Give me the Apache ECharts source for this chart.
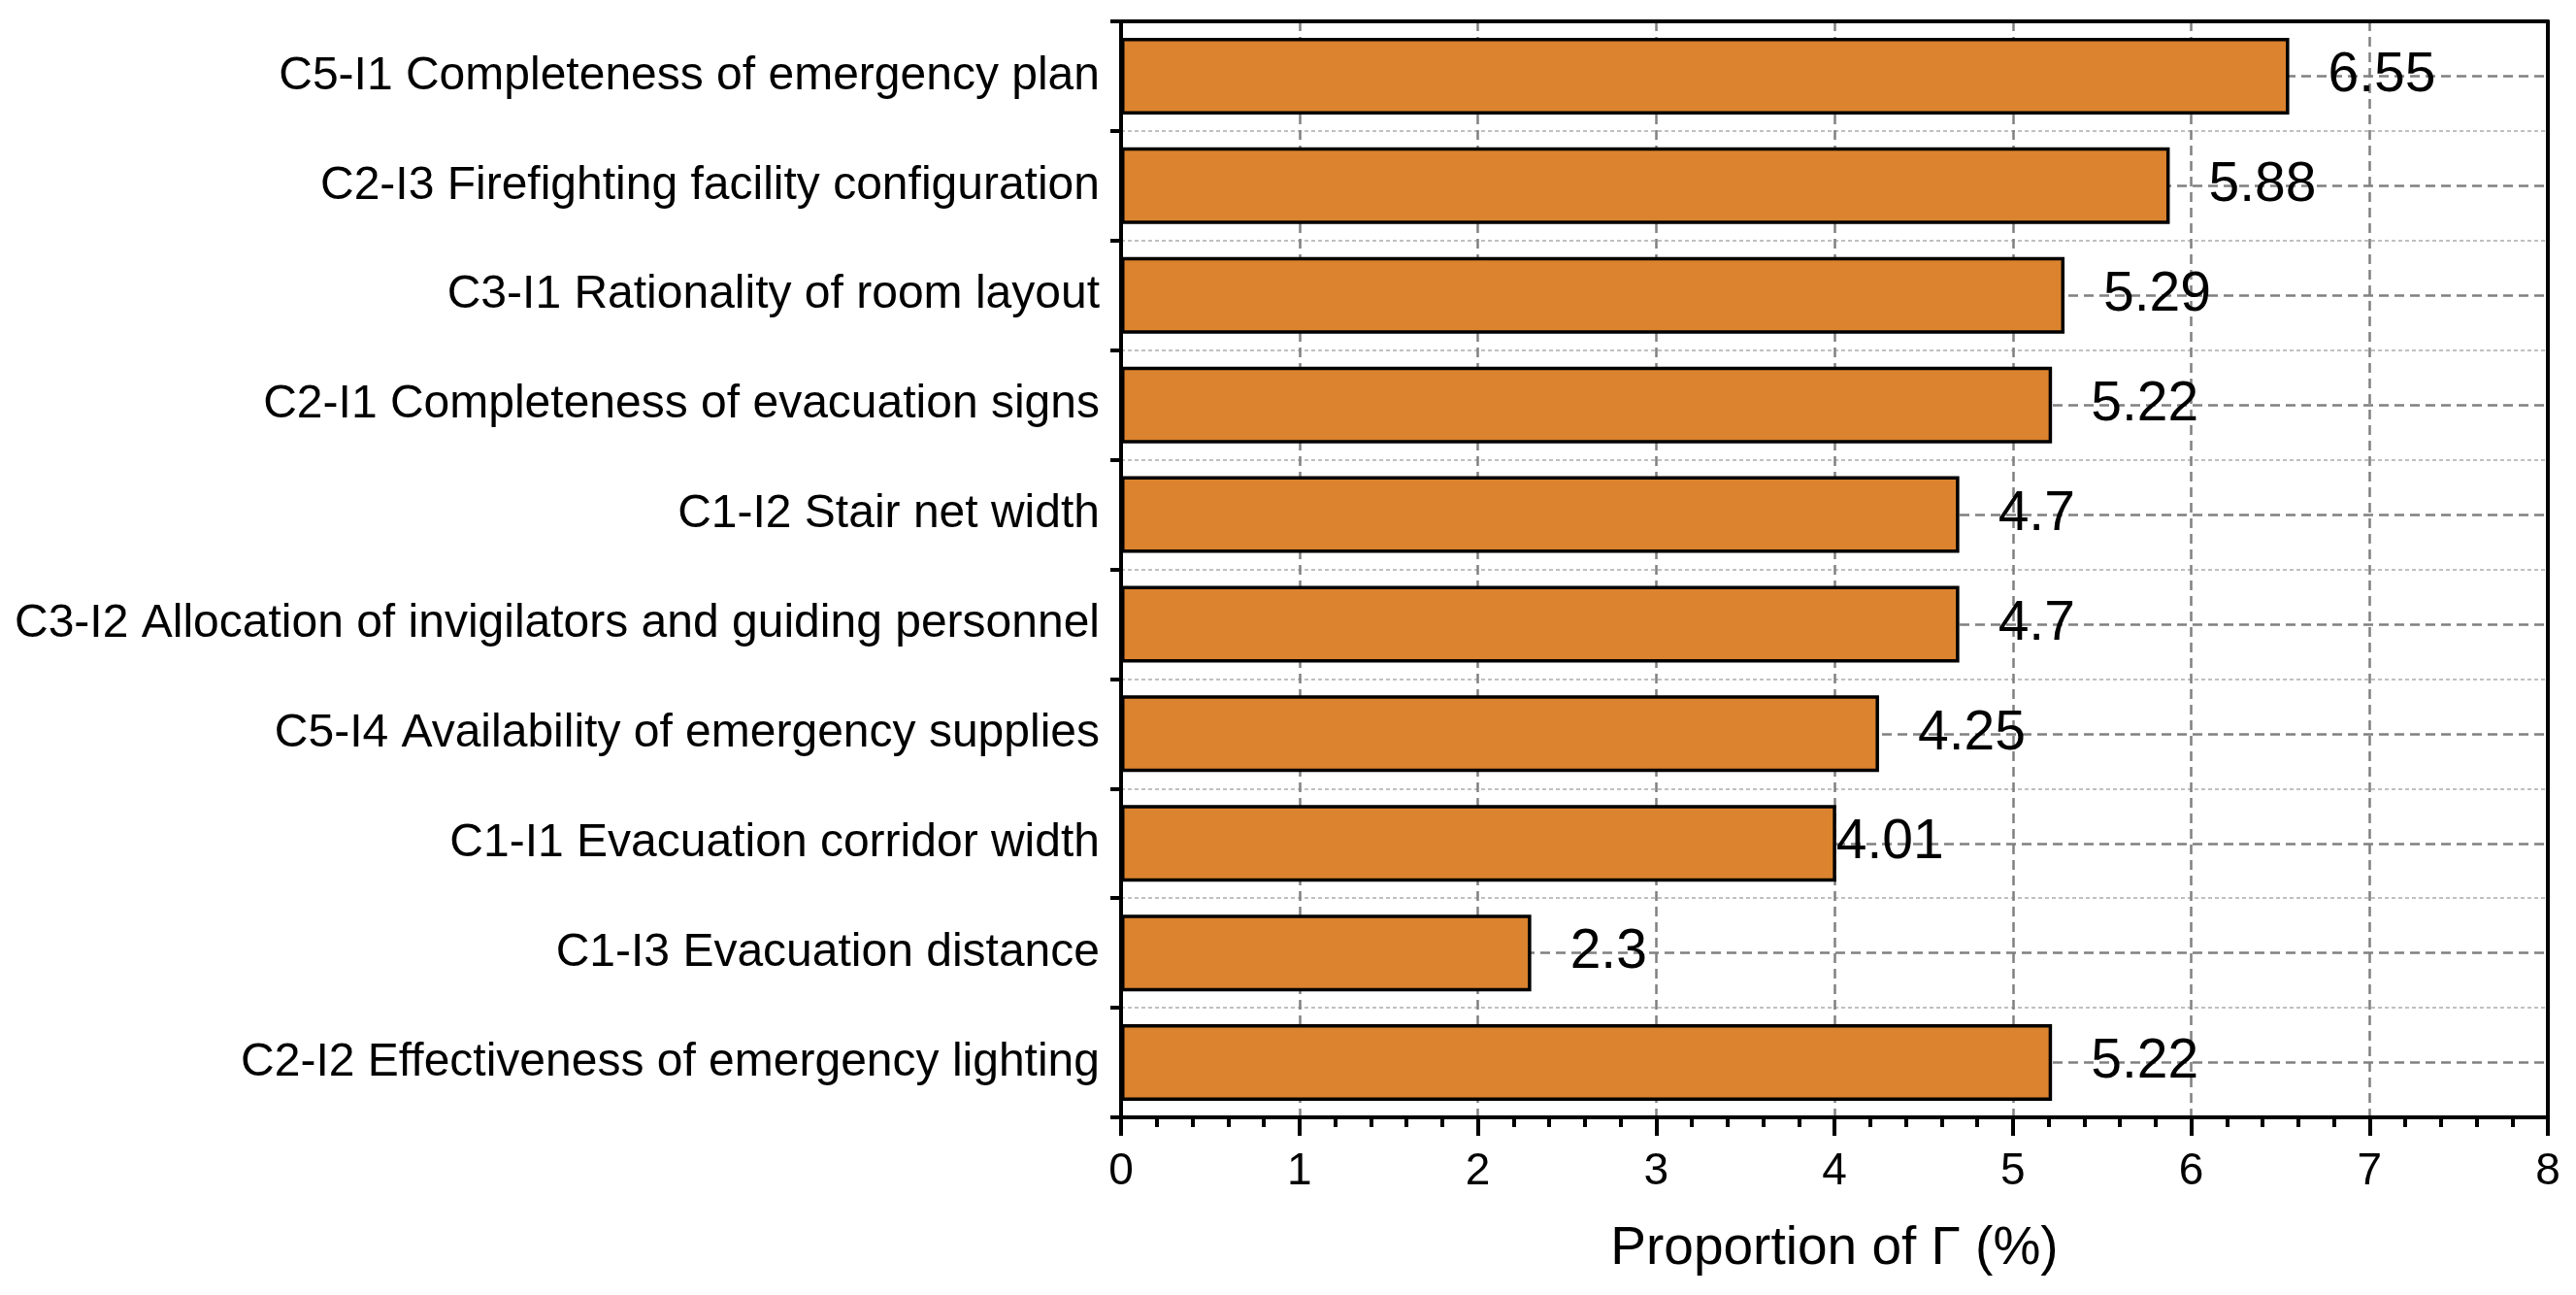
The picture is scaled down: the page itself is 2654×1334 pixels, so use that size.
<!DOCTYPE html>
<html>
<head>
<meta charset="utf-8">
<script src="https://cdn.jsdelivr.net/npm/echarts@6/dist/echarts.min.js"></script>
<style>
  html, body { margin: 0; padding: 0; background: #fff; }
  #main { width: 2654px; height: 1334px; }
</style>
</head>
<body>
<div id="main"></div>
<script>
// categories top to bottom
const categories = [
  "C5-I1 Completeness of emergency plan",
  "C2-I3 Firefighting facility configuration",
  "C3-I1 Rationality of room layout",
  "C2-I1 Completeness of evacuation signs",
  "C1-I2 Stair net width",
  "C3-I2 Allocation of invigilators and guiding personnel",
  "C5-I4 Availability of emergency supplies",
  "C1-I1 Evacuation corridor width",
  "C1-I3 Evacuation distance",
  "C2-I2 Effectiveness of emergency lighting"
];
const proportion = [6.55, 5.88, 5.29, 5.22, 4.7, 4.7, 4.25, 4.01, 2.3, 5.22];
const xTicks = [0, 1, 2, 3, 4, 5, 6, 7, 8];

const FONT = "'Liberation Sans', Arial, sans-serif";
// this one label sits right on the bar end in the original
const tightLabel = "C1-I1 Evacuation corridor width";

const myChart = echarts.init(document.getElementById("main"));

const barData = proportion.map(function (v, i) {
  const item = { value: v };
  if (categories[i] === tightLabel) {
    item.label = { distance: 0 };
  }
  return item;
});

const frameLine = { show: true, onZero: false, lineStyle: { color: "#000", width: 4 } };

const option = {
  animation: false,
  backgroundColor: "#fff",
  textStyle: { fontFamily: FONT },
  grid: {
    left: 1155,
    right: 29,
    top: 22,
    bottom: 183
  },
  xAxis: [
    {
      type: "value",
      position: "bottom",
      min: xTicks[0],
      max: xTicks[xTicks.length - 1],
      interval: 1,
      name: "Proportion of \u0393 (%)",
      nameLocation: "middle",
      nameGap: 108,
      nameTextStyle: { color: "#000", fontSize: 55, fontFamily: FONT },
      axisLine: frameLine,
      axisTick: { show: true, length: 19, lineStyle: { color: "#000", width: 4 } },
      minorTick: { show: true, splitNumber: 5, length: 10, lineStyle: { color: "#000", width: 4 } },
      axisLabel: { color: "#000", fontSize: 46, margin: 33, fontFamily: FONT },
      splitLine: {
        show: true,
        showMinLine: false,
        showMaxLine: false,
        lineStyle: { color: "#808080", width: 2.5, type: [10, 6] }
      }
    },
    {
      // top frame line
      type: "value",
      position: "top",
      min: xTicks[0],
      max: xTicks[xTicks.length - 1],
      axisLine: frameLine,
      axisTick: { show: false },
      axisLabel: { show: false },
      splitLine: { show: false }
    }
  ],
  yAxis: [
    {
      type: "category",
      data: categories,
      inverse: true,
      axisLine: frameLine,
      axisTick: { show: true, length: 11, lineStyle: { color: "#000", width: 4 } },
      axisLabel: { color: "#000", fontSize: 48, margin: 22, fontFamily: FONT },
      splitLine: { show: false }
    },
    {
      // helper axis: right frame line + horizontal grid (boundaries and category centres)
      type: "value",
      min: 0,
      max: categories.length,
      interval: 1,
      position: "right",
      axisLine: frameLine,
      axisTick: { show: false },
      axisLabel: { show: false },
      minorTick: { show: false, splitNumber: 2 },
      splitLine: {
        show: true,
        showMinLine: false,
        showMaxLine: false,
        lineStyle: { color: "#c0c0c0", width: 2, type: [4, 3] }
      },
      minorSplitLine: { show: true, lineStyle: { color: "#808080", width: 2.5, type: [10, 6] } }
    }
  ],
  series: [
    {
      type: "bar",
      yAxisIndex: 0,
      data: barData,
      barCategoryGap: "30%",
      itemStyle: { color: "#DB832E", borderColor: "#000", borderWidth: 3.5 },
      label: {
        show: true,
        position: "right",
        distance: 40,
        color: "#000",
        fontSize: 57,
        fontFamily: FONT
      }
    }
  ]
};

myChart.setOption(option);
</script>
</body>
</html>
